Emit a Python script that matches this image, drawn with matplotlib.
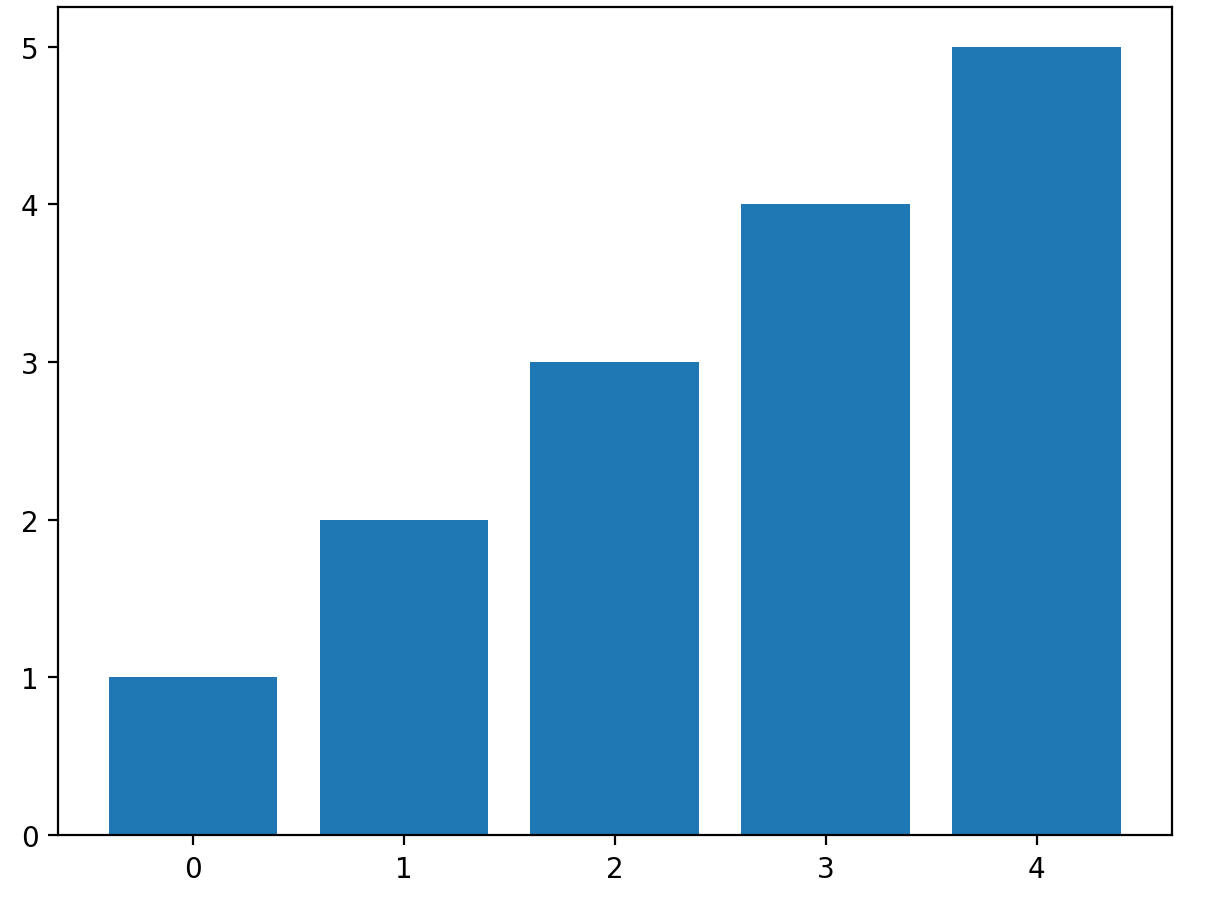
import matplotlib
matplotlib.use('Agg')
from matplotlib import pyplot as plt

x_values = [0, 1, 2, 3, 4]
heights = [1, 2, 3, 4, 5]

fig, ax = plt.subplots(figsize=(6.04, 4.52), dpi=200)
ax.bar(x_values, heights, color='C0')
plt.subplots_adjust(left=0.048, right=0.970, bottom=0.075, top=0.991)
plt.savefig('out.png', dpi=200)
